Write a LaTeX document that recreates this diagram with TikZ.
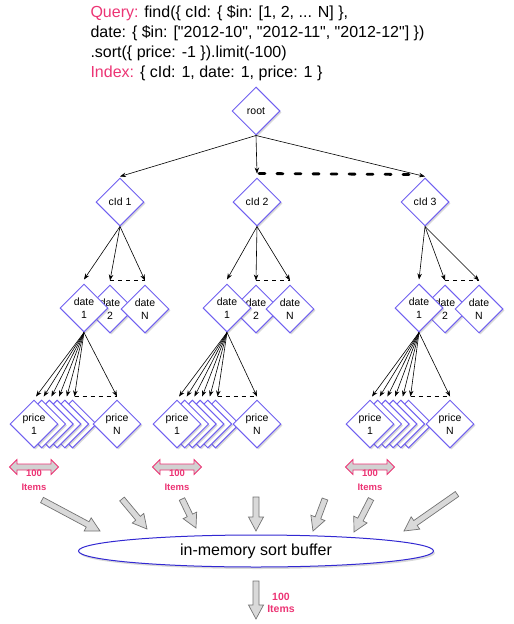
\documentclass[tikz,border=0pt]{standalone}
\usepackage{fontspec}
\setmainfont{Liberation Sans}[Ligatures=TeXOff]
\usetikzlibrary{shapes.geometric,calc,shadows,arrows.meta}
\definecolor{keypink}{RGB}{236,52,116}
\definecolor{keyblue}{RGB}{112,96,240}
\definecolor{bufblue}{RGB}{50,40,210}
\tikzset{
  keynode/.style={diamond,draw=keyblue,fill=white,line width=1pt,minimum width=48pt,minimum height=48pt,inner sep=0pt,align=center,font=\fontsize{10.5}{13}\selectfont,drop shadow={shadow xshift=1.5pt,shadow yshift=-1.5pt,opacity=0.3}},
  link/.style={->,line width=0.6pt},
  dashlink/.style={line width=1.2pt,dash pattern=on 4pt off 4pt},
  rootdash/.style={line width=2.8pt,line cap=round,dash pattern=on 6pt off 12pt},
  grayarrow/.style={draw=black!55,fill=black!15,line width=0.7pt},
  spanarrow/.style={draw=keypink,fill=black!18,line width=0.8pt},
  itemtext/.style={text=keypink,font=\fontsize{9.5}{11}\selectfont\bfseries},
  buffer/.style={ellipse,draw=bufblue,fill=white,line width=1pt,minimum width=355pt,minimum height=32pt,inner sep=0pt,font=\fontsize{16}{19}\selectfont,drop shadow={shadow xshift=1.5pt,shadow yshift=-2pt,opacity=0.3}}
}
\begin{document}
\begin{tikzpicture}[x=1pt,y=-1pt,>={Stealth[length=6pt,width=4.5pt]}]
    \useasboundingbox (0,0) rectangle (514,624);%整个图的边界
    \node[anchor=base west,font=\fontsize{16}{20}\selectfont] (query1) at (87,17) {\textcolor{keypink}{Query:} find(\{ cId: \{ \$in: [1, 2, ... N] \},};
    \node[anchor=base west,font=\fontsize{16}{20}\selectfont] (query2) at (87,37) {date: \{ \$in: ["2012-10", "2012-11", "2012-12"] \})};
    \node[anchor=base west,font=\fontsize{16}{20}\selectfont] (query3) at (87,57) {.sort(\{ price: -1 \}).limit(-100)};
    \node[anchor=base west,font=\fontsize{16}{20}\selectfont] (query4) at (87,77) {\textcolor{keypink}{Index:} \{ cId: 1, date: 1, price: 1 \}};
    \node[keynode] (root) at (256,111) {root};
    \node[keynode] (cid1) at (120,202) {cId 1};
    \node[keynode] (cid2) at (257,202) {cId 2};
    \node[keynode] (cid3) at (425,202) {cId 3};
    \draw[link] (root.south) -- ([yshift=1pt]cid1.north);
    \draw[link] (root.south) -- ([yshift=4pt]cid2.north);
    \draw[link] (root.south) -- ([yshift=1pt]cid3.north);
    \draw[rootdash] ([xshift=2pt,yshift=4pt]cid2.north) -- ([xshift=-12pt,yshift=3pt]cid3.north);%粗虚线
    \foreach \i/\a/\b/\c/\p/\q in {1/84/110/145/34/117, 2/227/256/290/177/257, 3/419/445/479/370/450} {
        \node[keynode] (date\i-2) at (\b,309) {date\\2};
        \node[keynode] (date\i-N) at (\c,309) {date\\N};
        \node[keynode] (date\i-1) at (\a,308) {date\\1};
        \draw[link] (cid\i.south) -- ([yshift=4pt]date\i-1.north);
        \draw[link] (cid\i.south) -- ([yshift=4pt]date\i-2.north);
        \draw[link] (cid\i.south) -- ([yshift=4pt]date\i-N.north);
        \draw[dashlink] ([yshift=4pt]date\i-2.north) -- ([yshift=4pt]date\i-N.north);
        \foreach \k in {5,4,...,1}
            \node[keynode] (price\i-\k) at ({\p+7.7*\k},424) {};%叠在后面的price
        \node[keynode] (price\i-0) at (\p,424) {price\\1};
        \node[keynode] (price\i-N) at (\q,424) {price\\N};
        \foreach \k in {0,...,5}
            \draw[link] (date\i-1.south) -- ([xshift=2pt,yshift=3pt]price\i-\k.north);
        \draw[link] (date\i-1.south) -- ([yshift=3pt]price\i-N.north);
        \draw[dashlink] ([xshift=2pt,yshift=3pt]price\i-5.north) -- ([yshift=3pt]price\i-N.north);
        \begin{scope}[shift={(\p,467)}]
            \draw[spanarrow] (-24.5,0) -- (-17,-7.5) -- (-17,-3) -- (17,-3) -- (17,-7.5) -- (24.5,0) -- (17,7.5) -- (17,3) -- (-17,3) -- (-17,7.5) -- cycle;%双向箭头
        \end{scope}
        \node[itemtext] (count\i) at (\p,473) {100};
        \node[itemtext] (items\i) at (\p,487) {Items};
    }
    \node[buffer] (buffer) at (256,551) {in-memory sort buffer};
    \foreach \i/\xa/\ya/\xb/\yb in {1/42/500/100/531, 2/122/499/147/529, 3/182/499/196/528, 4/256/497/256/531, 5/325/499/313/531, 6/371/499/354/532, 7/457/494/404/531, 8/256/581/256/619} {
        \coordinate (feed\i) at (\xa,\ya);
        \coordinate (inlet\i) at (\xb,\yb);
        \coordinate (base\i) at ($(inlet\i)!14pt!(feed\i)$);
        \draw[grayarrow] ($(feed\i)!3pt!90:(inlet\i)$) -- ($(base\i)!3pt!-90:(feed\i)$) -- ($(base\i)!7.5pt!-90:(feed\i)$) -- (inlet\i) -- ($(base\i)!7.5pt!90:(feed\i)$) -- ($(base\i)!3pt!90:(feed\i)$) -- ($(feed\i)!3pt!-90:(inlet\i)$) -- cycle;%灰色粗箭头
    }
    \node[itemtext,font=\fontsize{10.5}{12}\selectfont\bfseries] (outcount) at (281,597) {100};
    \node[itemtext,font=\fontsize{10.5}{12}\selectfont\bfseries] (outitems) at (281,609) {Items};
\end{tikzpicture}
\end{document}
